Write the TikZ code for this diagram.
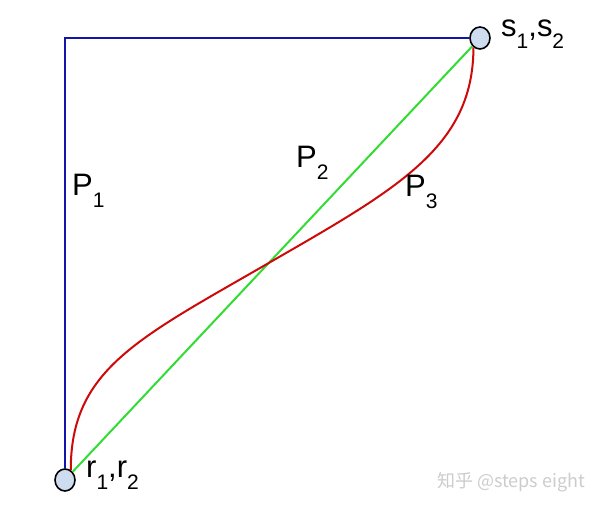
\documentclass[tikz,border=0pt]{standalone}
\usepackage{fontspec}
\setmainfont{Liberation Sans}
\newfontfamily\cjkfont{Noto Sans CJK SC}
\usetikzlibrary{shapes.geometric}
\usetikzlibrary{positioning}

\definecolor{pathblue}{RGB}{20,20,170}
\definecolor{pathgreen}{RGB}{50,220,50}
\definecolor{pathred}{RGB}{205,10,10}
\definecolor{nodefill}{RGB}{205,220,238}
\newcommand{\lowidx}[1]{\raisebox{-12pt}{\fontsize{21}{21}\selectfont #1}}

\begin{document}
\begin{tikzpicture}[x=1pt,y=1pt,
    endpt/.style={ellipse, draw=black, line width=1.6pt, fill=nodefill,
                  minimum width=20pt, minimum height=22pt, inner sep=0pt},
    plabel/.style={font=\fontsize{31}{31}\selectfont, inner sep=0pt, anchor=base west}]
            \useasboundingbox (0,0) rectangle (600,508);

            % Endpoints
            \node[endpt] (r) at (65,28) {};
            \node[endpt] (s) at (480,470) {};
            \coordinate (x) at (267,244);

            % Paths
            \draw[pathblue, line width=2.7pt] (r) |- (s);
            \draw[pathgreen, line width=2pt] (r) -- (s);
            \draw[pathred, line width=2pt] (r.60) .. controls +(0,100) and +(-130,-75) .. (x)
                .. controls +(130,75) and +(0,-100) .. (s.235);

            % Labels
            \node[plabel] (p1) at (72,312) {P\lowidx{1}};
            \node[plabel] (p2) at (296,340) {P\lowidx{2}};
            \node[plabel] (p3) at (405,311) {P\lowidx{3}};
            \node[plabel] (sl) at (501,471) {s\lowidx{1},s\lowidx{2}};
            \node[plabel] (rl) at (86,30) {r\lowidx{1},r\lowidx{2}};

            % Watermark
            \node[font=\cjkfont\fontsize{18}{18}\selectfont, text=black!20, inner sep=0pt,
                  anchor=base west] (wm) at (437,20) {知乎 @steps eight};

        \end{tikzpicture}
\end{document}
